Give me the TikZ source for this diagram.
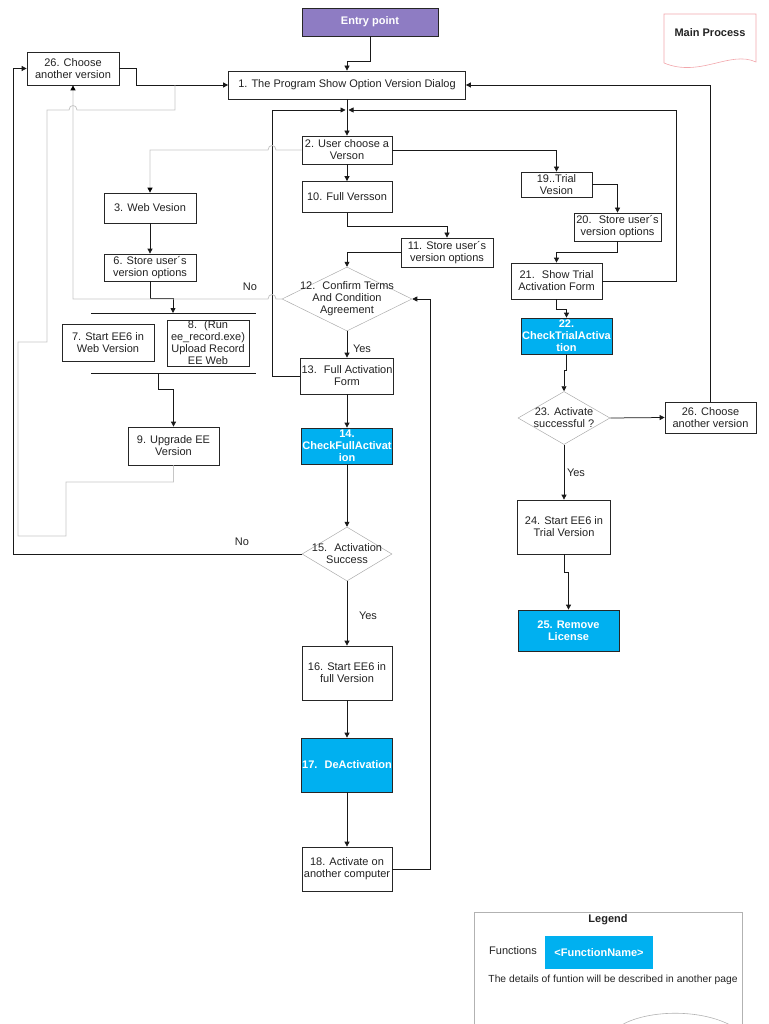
\documentclass[tikz,border=0pt]{standalone}
\usepackage{fontspec}
\setmainfont{Liberation Sans}
\usetikzlibrary{arrows.meta,shapes.geometric}
\definecolor{cyanc}{HTML}{00B0F0}
\definecolor{purplec}{HTML}{8E7CC3}
\definecolor{pinkc}{HTML}{F2A7AC}
\definecolor{txt}{HTML}{222222}
\newcommand\mfs{\fontsize{11}{12}\selectfont}
\newcommand\mfsb{\fontsize{11}{12}\selectfont\bfseries}
\newcommand\mfss{\fontsize{10.3}{12}\selectfont}
\begin{document}
\begin{tikzpicture}[x=1pt,y=-1pt,
  box/.style={draw=black!85, line width=0.75pt, fill=white, align=center, inner sep=1pt, font=\mfs, text=txt},
  fnbox/.style={box, fill=cyanc, text=white, font=\mfsb},
  dia/.style={draw=gray!65, line width=0.5pt, diamond, inner sep=0pt},
  con/.style={line width=0.75pt, draw=black!90},
  arr/.style={con, -{Triangle[length=5pt,width=5pt]}},
  gcon/.style={line width=0.8pt, draw=gray!45},
  garr/.style={gcon, -{Triangle[length=5pt,width=5pt,color=black]}},
  lbl/.style={font=\mfs, text=txt, align=center, inner sep=0pt}]
\useasboundingbox (0,0) rectangle (768,1024);

% ---------- nodes ----------
\node[box, fill=purplec, text=white, font=\mfsb, minimum width=136, minimum height=28] (entry) at (370,22) {Entry point};
\node[box, minimum width=92, minimum height=33] (c26a) at (73,68.5) {26. Choose\\another version};
\node[box, minimum width=237, minimum height=28] (n1) at (347,85) {1. The Program Show Option Version Dialog};
\node[box, minimum width=90, minimum height=28] (n2) at (347,150) {2. User choose a\\Verson};
\node[box, minimum width=90, minimum height=31] (n10) at (347,197) {10. Full Versson};
\node[box, minimum width=92, minimum height=30] (n3) at (150,208) {3. Web Vesion};
\node[box, minimum width=92, minimum height=27] (n6) at (150,267.5) {6. Store user´s\\version options};
\node[box, minimum width=92, minimum height=29] (n11) at (447,252.5) {11. Store user´s\\version options};
\node[dia, minimum width=130, minimum height=64] (d12) at (347,299) {};
\node[lbl] (t12) at (d12) {12.~ Confirm Terms\\And Condition\\Agreement};
\node[box, minimum width=90, minimum height=36] (n13) at (347,376) {13.~ Full Activation\\Form};
\node[fnbox, minimum width=90, minimum height=36] (n14) at (347,446) {14.\\CheckFullActivat\\ion};
\node[dia, minimum width=90, minimum height=54] (d15) at (347,554) {};
\node[lbl] (t15) at (d15) {15.~ Activation\\Success};
\node[box, minimum width=90, minimum height=54] (n16) at (347,673) {16. Start EE6 in\\full Version};
\node[fnbox, minimum width=90, minimum height=54] (n17) at (347,765) {17.~ DeActivation};
\node[box, minimum width=90, minimum height=44] (n18) at (347,869) {18. Activate on\\another computer};
\node[box, minimum width=92, minimum height=37] (n7) at (108,342.5) {7. Start EE6 in\\Web Version};
\node[box, minimum width=82, minimum height=44] (n8) at (208,343) {8.~ (Run\\ee\_record.exe)\\Upload Record\\EE Web};
\node[box, minimum width=91, minimum height=38] (n9) at (173.5,446) {9. Upgrade EE\\Version};
\node[box, minimum width=71, minimum height=25] (n19) at (556.5,184.5) {19..Trial\\Vesion};
\node[box, minimum width=87, minimum height=28] (n20) at (617.5,227) {20.~ Store user´s\\version options};
\node[box, minimum width=91, minimum height=36] (n21) at (556.5,281) {21.~ Show Trial\\Activation Form};
\node[fnbox, minimum width=91, minimum height=36] (n22) at (566.5,336) {22.\\CheckTrialActiva\\tion};
\node[dia, minimum width=92, minimum height=53] (d23) at (564,418) {};
\node[lbl] (t23) at (d23) {23. Activate\\successful ?};
\node[box, minimum width=91, minimum height=31] (c26b) at (710.5,417.5) {26. Choose\\another version};
\node[box, minimum width=93, minimum height=54] (n24) at (564,527) {24. Start EE6 in\\Trial Version};
\node[fnbox, minimum width=101, minimum height=41] (n25) at (568.5,630.5) {25. Remove\\License};

% fork bars
\coordinate (b1a) at (91,313); \coordinate (b1b) at (256,313);
\coordinate (b2a) at (91,373); \coordinate (b2b) at (256,373);
\coordinate (bar1) at (173,313); \coordinate (bar2) at (158,373);
\draw[con] (b1a) -- (b1b);
\draw[con] (b2a) -- (b2b);

% junction above node 2
\coordinate (jn) at (347,110);

% ---------- main process tag ----------
\draw[draw=pinkc, line width=0.6pt] (664,63) -- (664,14) -- (756,14) -- (756,62)
  .. controls (730,50) and (700,78) .. (664,63);
\node[lbl, font=\mfsb] (mp) at (710,33) {Main Process};

% ---------- connectors ----------
\draw[arr] (entry.south) -- ++(0,25) -| (n1.north);
\draw[arr] (c26a.east) -- ++(17,0) |- (n1.west);
\draw[arr] (n1.south) -- (n2.north);
\draw[arr] (n2.south) -- (n10.north);
\draw[arr] (n10.south) -- ++(0,14) -| (n11.north);
\draw[arr] (n11.west) -| (d12.north);
\draw[arr] (d12.south) -- (n13.north);
\draw[arr] (n13.south) -- (n14.north);
\draw[arr] (n14.south) -- (d15.north);
\draw[arr] (d15.south) -- (n16.north);
\draw[arr] (n16.south) -- (n17.north);
\draw[arr] (n17.south) -- (n18.north);
\draw[arr] (n18.east) -- ++(38,0) |- (d12.east);
\draw[arr] (d15.west) -- (13,554) |- (c26a.west);
\draw[arr, shorten >=1.5pt] (n13.west) -- (272,376) |- (jn);
\draw[arr, shorten >=1.5pt] (n21.east) -- (676,281) |- (jn);
\draw[arr] (c26b.north) |- (n1.east);

\draw[arr] (n2.east) -| (n19.north);
\draw[arr] (n19.east) -| (n20.north);
\draw[arr] (n20.south) -- ++(0,11) -| (n21.north);
\draw[arr] (n21.south) -- ++(0,10) -| (n22.north);
\draw[arr] (n22.south) -- ++(0,16) -| (d23.north);
\draw[arr] (d23.east) -- (c26b.west);
\draw[arr] (d23.south) -- (n24.north);
\draw[arr] (n24.south) -- ++(0,18) -| (n25.north);

\draw[arr] (n3.south) -- (n6.north);
\draw[arr] (n6.south) -- ++(0,17) -| (bar1);
\draw[arr] (bar2) -- ++(0,16) -| (n9.north);

% gray connectors
\draw[garr] (n2.west) -- (276,150) .. controls (276,144) and (268,144) .. (268,150) -- (150,150) -- (n3.north);
\draw[garr] (d12.west) -- (276,299) .. controls (276,293) and (268,293) .. (268,299) -- (73,299) -- (c26a.south);
\draw[gcon] (n9.south) -- (173.5,482) -- (66,482) -- (66,536) -- (18,536) -- (18,342) -- (47,342) -- (47,110)
  -- (69,110) .. controls (69,104) and (77,104) .. (77,110) -- (175,110) -- (175,85.4);

% labels
\node[lbl] (no12) at (250,287) {No};
\node[lbl] (no15) at (242,542) {No};
\node[lbl] (yes12) at (362,349) {Yes};
\node[lbl] (yes15) at (368,616) {Yes};
\node[lbl] (yes23) at (576,473) {Yes};

% ---------- legend ----------
\draw[draw=gray!60, line width=0.6pt] (474,912) rectangle (742,1040);
\node[lbl, font=\mfsb] (legt) at (608,920) {Legend};
\node[lbl] (legf) at (513,951) {Functions};
\node[fnbox, draw=none, minimum width=108, minimum height=33] (legbox) at (599,952.5) {<FunctionName>};
\node[lbl, font=\mfss] (legd) at (613,980) {The details of funtion will be described in another page};
\draw[draw=gray!60, line width=0.6pt] (620,1026) .. controls (645,1010) and (700,1008) .. (732,1026);
\end{tikzpicture}
\end{document}
